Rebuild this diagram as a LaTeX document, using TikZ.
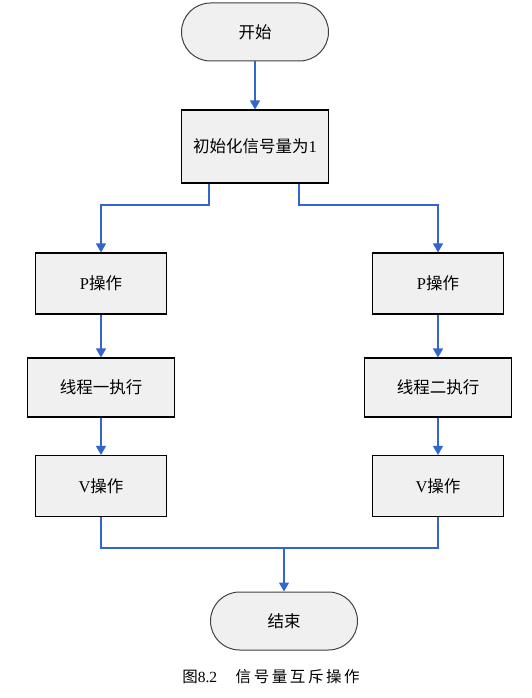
\documentclass[tikz,border=0pt]{standalone}
\usepackage{fontspec}
\setmainfont{Liberation Serif}
\newfontfamily\cjk{Noto Sans CJK SC}
\usetikzlibrary{arrows.meta}
\definecolor{linkblue}{RGB}{51,102,204}
\definecolor{boxgray}{RGB}{240,240,240}
\begin{document}
\begin{tikzpicture}[x=1pt, y=-1pt,
	proc/.style={rectangle, draw=black, line width=1.1pt, fill=boxgray, minimum width=131pt, minimum height=61pt, inner sep=0pt, font=\fontsize{16.5}{19}\selectfont},
	term/.style={rectangle, rounded corners=29pt, draw=black!75, line width=1pt, fill=boxgray, minimum width=147pt, minimum height=58pt, inner sep=0pt, font=\fontsize{16.5}{19}\selectfont\cjk},
	line/.style={draw=linkblue, line width=1.2pt},
	flow/.style={line, -{Triangle[width=10pt, length=9pt]}}]
	\useasboundingbox (0, 0) rectangle (532, 698);
	
	\node[term] (start) at (255, 32) {开始};
	\node[proc, minimum width=147pt, minimum height=73pt] (init) at (255, 146.5) {{\cjk 初始化信号量为}1};
	
	\node[proc] (p-1) at (101, 283.5) {P{\cjk 操作}};
	\node[proc, minimum width=147pt, minimum height=59pt] (t-1) at (101, 387.5) {\cjk 线程一执行};
	\node[proc] (v-1) at (101, 486) {V{\cjk 操作}};
	
	\node[proc] (p-2) at (438, 283.5) {P{\cjk 操作}};
	\node[proc, minimum width=147pt, minimum height=59pt] (t-2) at (438, 387.5) {\cjk 线程二执行};
	\node[proc] (v-2) at (438, 486) {V{\cjk 操作}};
	
	\node[term] (stop) at (284, 621) {结束};
	\node[font=\fontsize{15.5}{18}\selectfont] (caption) at (271, 677) {{\cjk 图}8.2\hspace{1.2em}{\cjk 信\,号\,量\,互\,斥\,操\,作}};
	
	\draw[flow] (start) -- (init);
	\draw[flow] ([xshift=-46pt]init.south) |- (p-1.north |- 0, 205) -- (p-1);
	\draw[flow] ([xshift=44pt]init.south) |- (p-2.north |- 0, 205) -- (p-2);
	
	\draw[flow] (p-1) -- (t-1);
	\draw[flow] (t-1) -- (v-1);
	\draw[flow] (p-2) -- (t-2);
	\draw[flow] (t-2) -- (v-2);
	
	\coordinate (merge) at (284, 548);
	\draw[line] (v-1.south) |- (merge) -| (v-2.south);
	\draw[flow] (merge) -- (stop);
\end{tikzpicture}
\end{document}
